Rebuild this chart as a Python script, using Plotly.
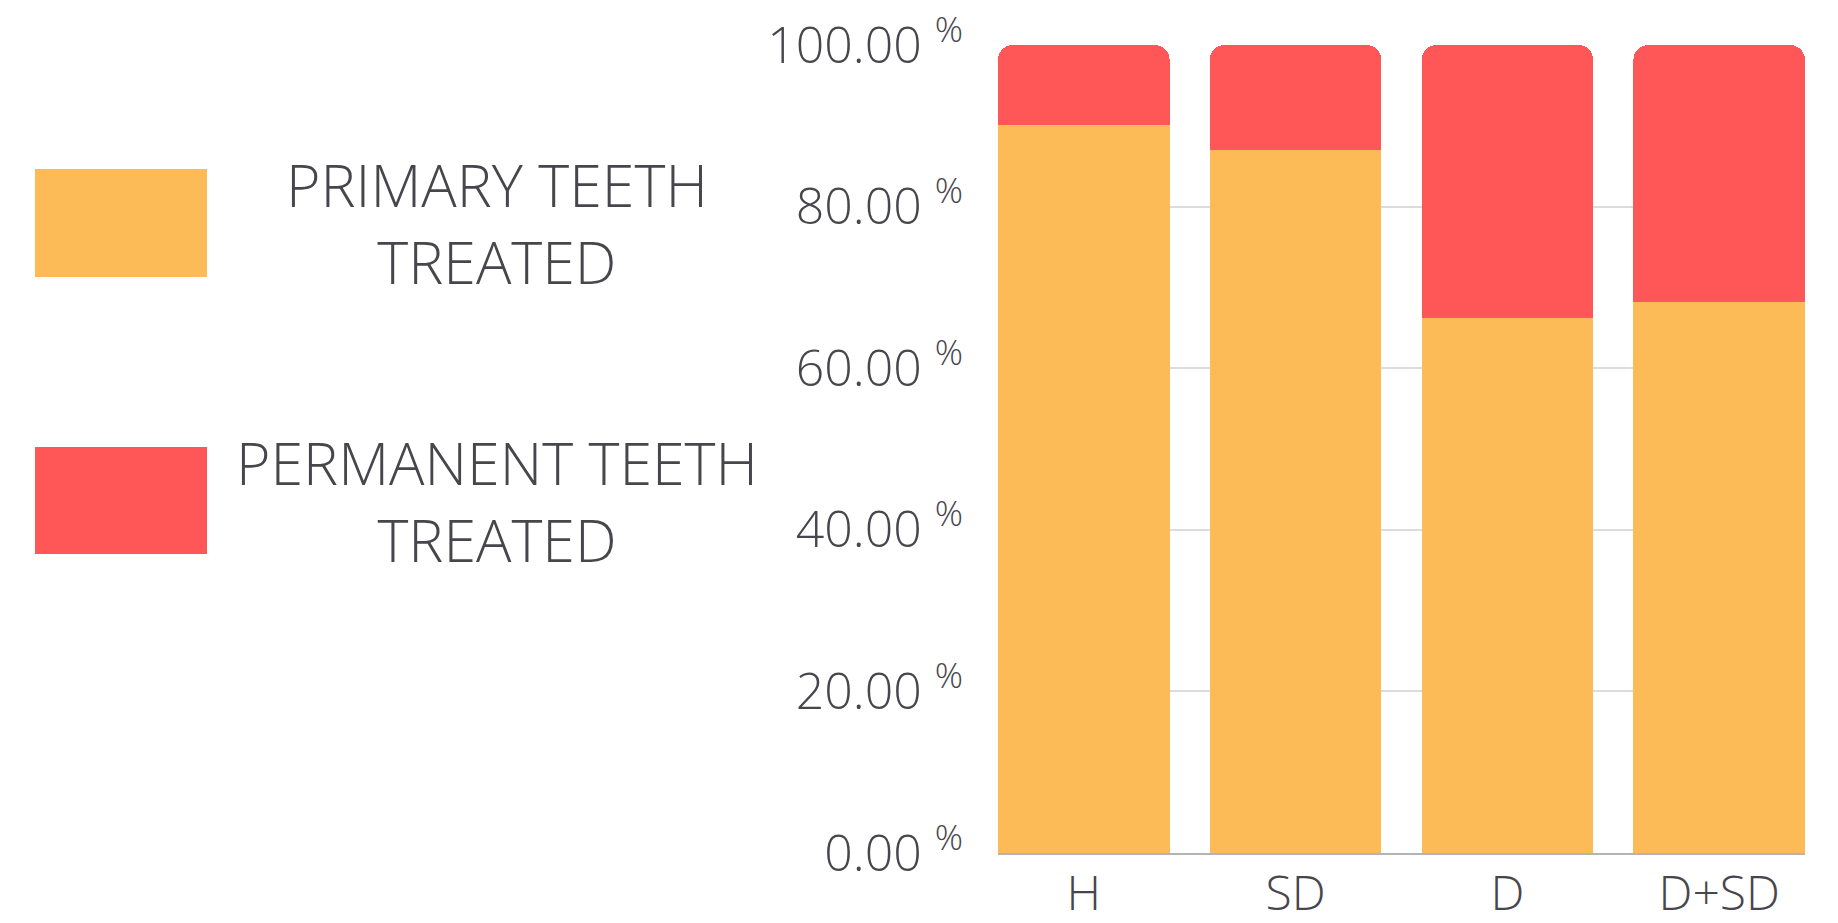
import plotly.graph_objects as go

groups = ['H', 'SD', 'D', 'D+SD']
primary_pct = [90.1, 87.0, 66.2, 68.2]
permanent_pct = [9.9, 13.0, 33.8, 31.8]
y_ticks = [0, 20, 40, 60, 80, 100]
y_tick_labels = ['%.2f <sup>%%</sup>' % v for v in y_ticks]
legend_labels = ['PRIMARY TEETH<br>TREATED', 'PERMANENT TEETH<br>TREATED']

ORANGE = '#FDBB57'
RED = '#FF5757'
TEXT = '#48464c'
FONT = 'Open Sans'
WEIGHT = 350

# figure / plot area in pixels (page body adds an 8px margin, taken off here)
FIG_W, FIG_H = 1838, 923
OFF = 8
L, R, T, B = 998 - OFF, 1805 - OFF, 45 - OFF, 853 - OFF
BARGAP = 0.19


def px_x(p):
    return (p - OFF - L) / (R - L)


def px_y(p):
    return (B - (p - OFF)) / (B - T)


fig = go.Figure()
fig.add_trace(go.Bar(x=groups, y=primary_pct, marker_color=ORANGE,
                     marker_line_width=0, name='primary'))
fig.add_trace(go.Bar(x=groups, y=permanent_pct, marker_color=RED,
                     marker_line_width=0, name='permanent'))

# legend drawn by hand: big swatches with centred two-line labels
swatches = [(169, 277), (447, 554)]
for (y0, y1), color, label in zip(swatches, [ORANGE, RED], legend_labels):
    fig.add_shape(type='rect', xref='paper', yref='paper',
                  x0=px_x(35), x1=px_x(207), y0=px_y(y1), y1=px_y(y0),
                  fillcolor=color, line_width=0)
    fig.add_annotation(xref='paper', yref='paper', x=px_x(497), y=px_y((y0 + y1) / 2),
                       text=label, showarrow=False, xanchor='center', yanchor='middle',
                       align='center',
                       font=dict(family=FONT, size=59, color=TEXT, weight=WEIGHT))

fig.update_layout(
    width=FIG_W, height=FIG_H,
    margin=dict(l=L, r=FIG_W - R, t=T, b=FIG_H - B, pad=0),
    barmode='stack', bargap=BARGAP, barcornerradius=15,
    plot_bgcolor='white', paper_bgcolor='white',
    showlegend=False,
    font=dict(family=FONT, color=TEXT, weight=WEIGHT),
)
fig.update_xaxes(range=[-0.5 + BARGAP / 2, 3.5 - BARGAP / 2], showgrid=False,
                 automargin=False,
                 showline=True, linecolor='#b4b4b4', linewidth=2,
                 ticks='', ticklabelstandoff=-3,
                 tickfont=dict(family=FONT, size=48, color=TEXT, weight=WEIGHT))
fig.update_yaxes(range=[0, 100], tickvals=y_ticks, ticktext=y_tick_labels,
                 automargin=False, ticklabeloverflow='allow',
                 showgrid=True, gridcolor='#dcdcdc', gridwidth=2,
                 zeroline=False, ticks='', ticklabelstandoff=34,
                 tickfont=dict(family=FONT, size=50, color=TEXT, weight=WEIGHT))

fig.write_html("out.html")
